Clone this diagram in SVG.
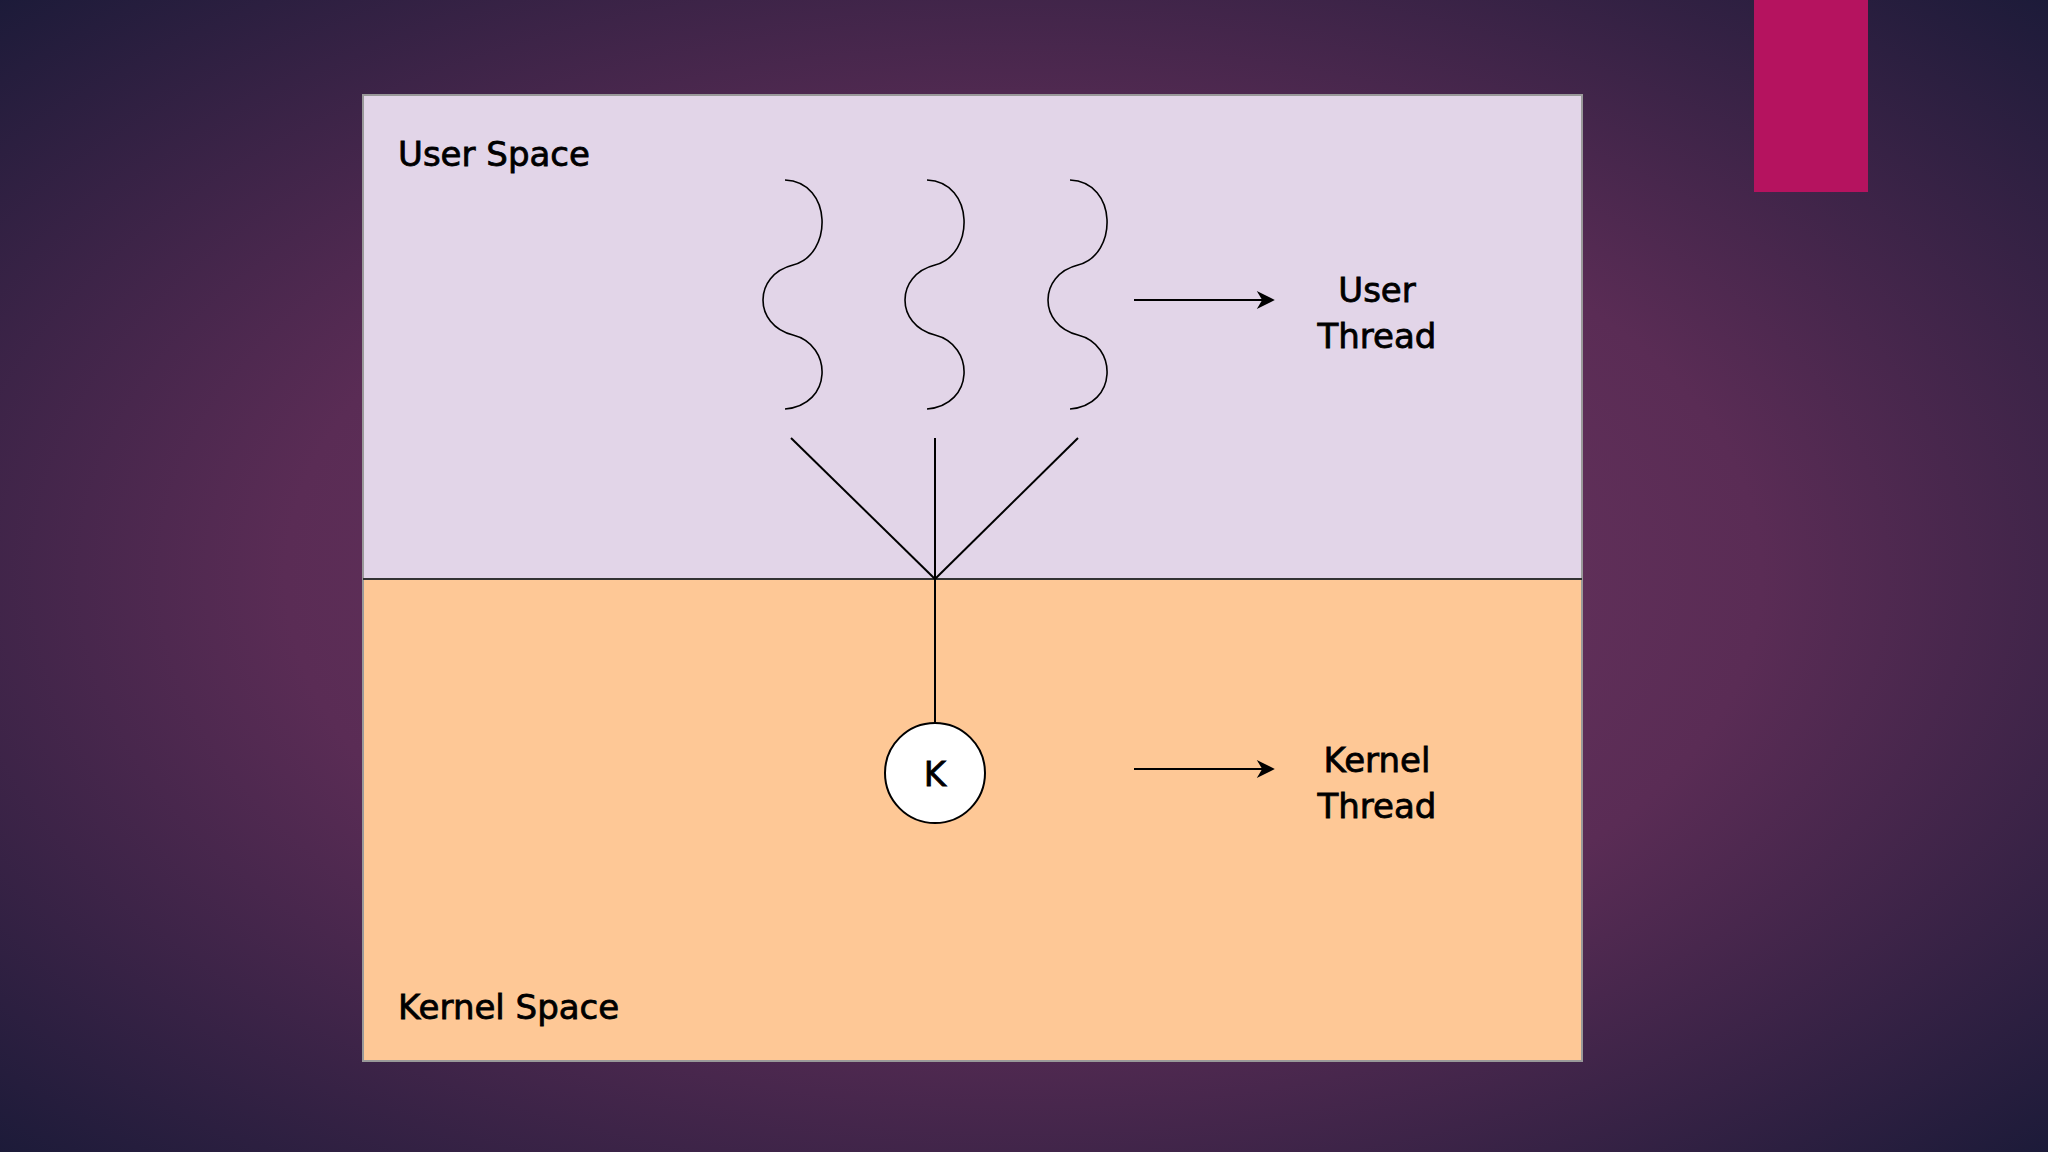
<svg xmlns="http://www.w3.org/2000/svg" width="2048" height="1152" viewBox="0 0 2048 1152">
<defs>
<radialGradient id="bg" cx="50%" cy="50%" r="72%">
<stop offset="0" stop-color="#6e3763"/><stop offset="0.5" stop-color="#5a2c55"/><stop offset="1" stop-color="#1a1a38"/>
</radialGradient>
<marker id="ar" viewBox="0 0 10 10" refX="9" refY="5" markerWidth="22" markerHeight="18" orient="auto" markerUnits="userSpaceOnUse">
<path d="M0,0 L10,5 L0,10 L3,5 z" fill="#000"/>
</marker>
<path id="br" d="M-8,180 C40,182 40,255 0,265 C-40,275 -40,325 0,335 C40,345 40,405 -8,409" fill="none" stroke="#000" stroke-width="1.6"/>
</defs>
<style>
.t{font-family:"DejaVu Sans",Verdana,sans-serif;font-size:34px;fill:#000;stroke:#000;stroke-width:0.8;}
.l{stroke:#000;stroke-width:2;fill:none}
</style>
<rect width="2048" height="1152" fill="url(#bg)"/>
<rect x="1754" y="0" width="114" height="192" fill="#b5135f"/>
<g id="user-space">
<rect x="363" y="95" width="1219" height="484" fill="#e2d5e8" stroke="#999" stroke-width="2"/>
<text class="t" x="398" y="166">User Space</text>
</g>
<g id="kernel-space">
<rect x="363" y="579" width="1219" height="482" fill="#fec896" stroke="#999" stroke-width="2"/>
<line x1="363" y1="579" x2="1582" y2="579" stroke="#333" stroke-width="2"/>
<text class="t" x="398" y="1019">Kernel Space</text>
</g>
<g id="user-threads">
<use href="#br" x="793"/><use href="#br" x="935"/><use href="#br" x="1078"/>
</g>
<g id="kernel-thread">
<circle cx="935" cy="773" r="50" fill="#fff" stroke="#000" stroke-width="2"/>
<text class="t" x="935" y="786" text-anchor="middle">K</text>
</g>
<g id="connectors">
<line class="l" x1="1134" y1="300" x2="1273" y2="300" marker-end="url(#ar)"/>
<line class="l" x1="1134" y1="769" x2="1273" y2="769" marker-end="url(#ar)"/>
<line class="l" x1="791" y1="438" x2="935" y2="579"/>
<line class="l" x1="935" y1="438" x2="935" y2="723"/>
<line class="l" x1="1078" y1="438" x2="935" y2="579"/>
</g>
<g id="labels">
<text class="t" x="1377" y="302" text-anchor="middle">User</text>
<text class="t" x="1377" y="348" text-anchor="middle">Thread</text>
<text class="t" x="1377" y="772" text-anchor="middle">Kernel</text>
<text class="t" x="1377" y="818" text-anchor="middle">Thread</text>
</g>
</svg>
